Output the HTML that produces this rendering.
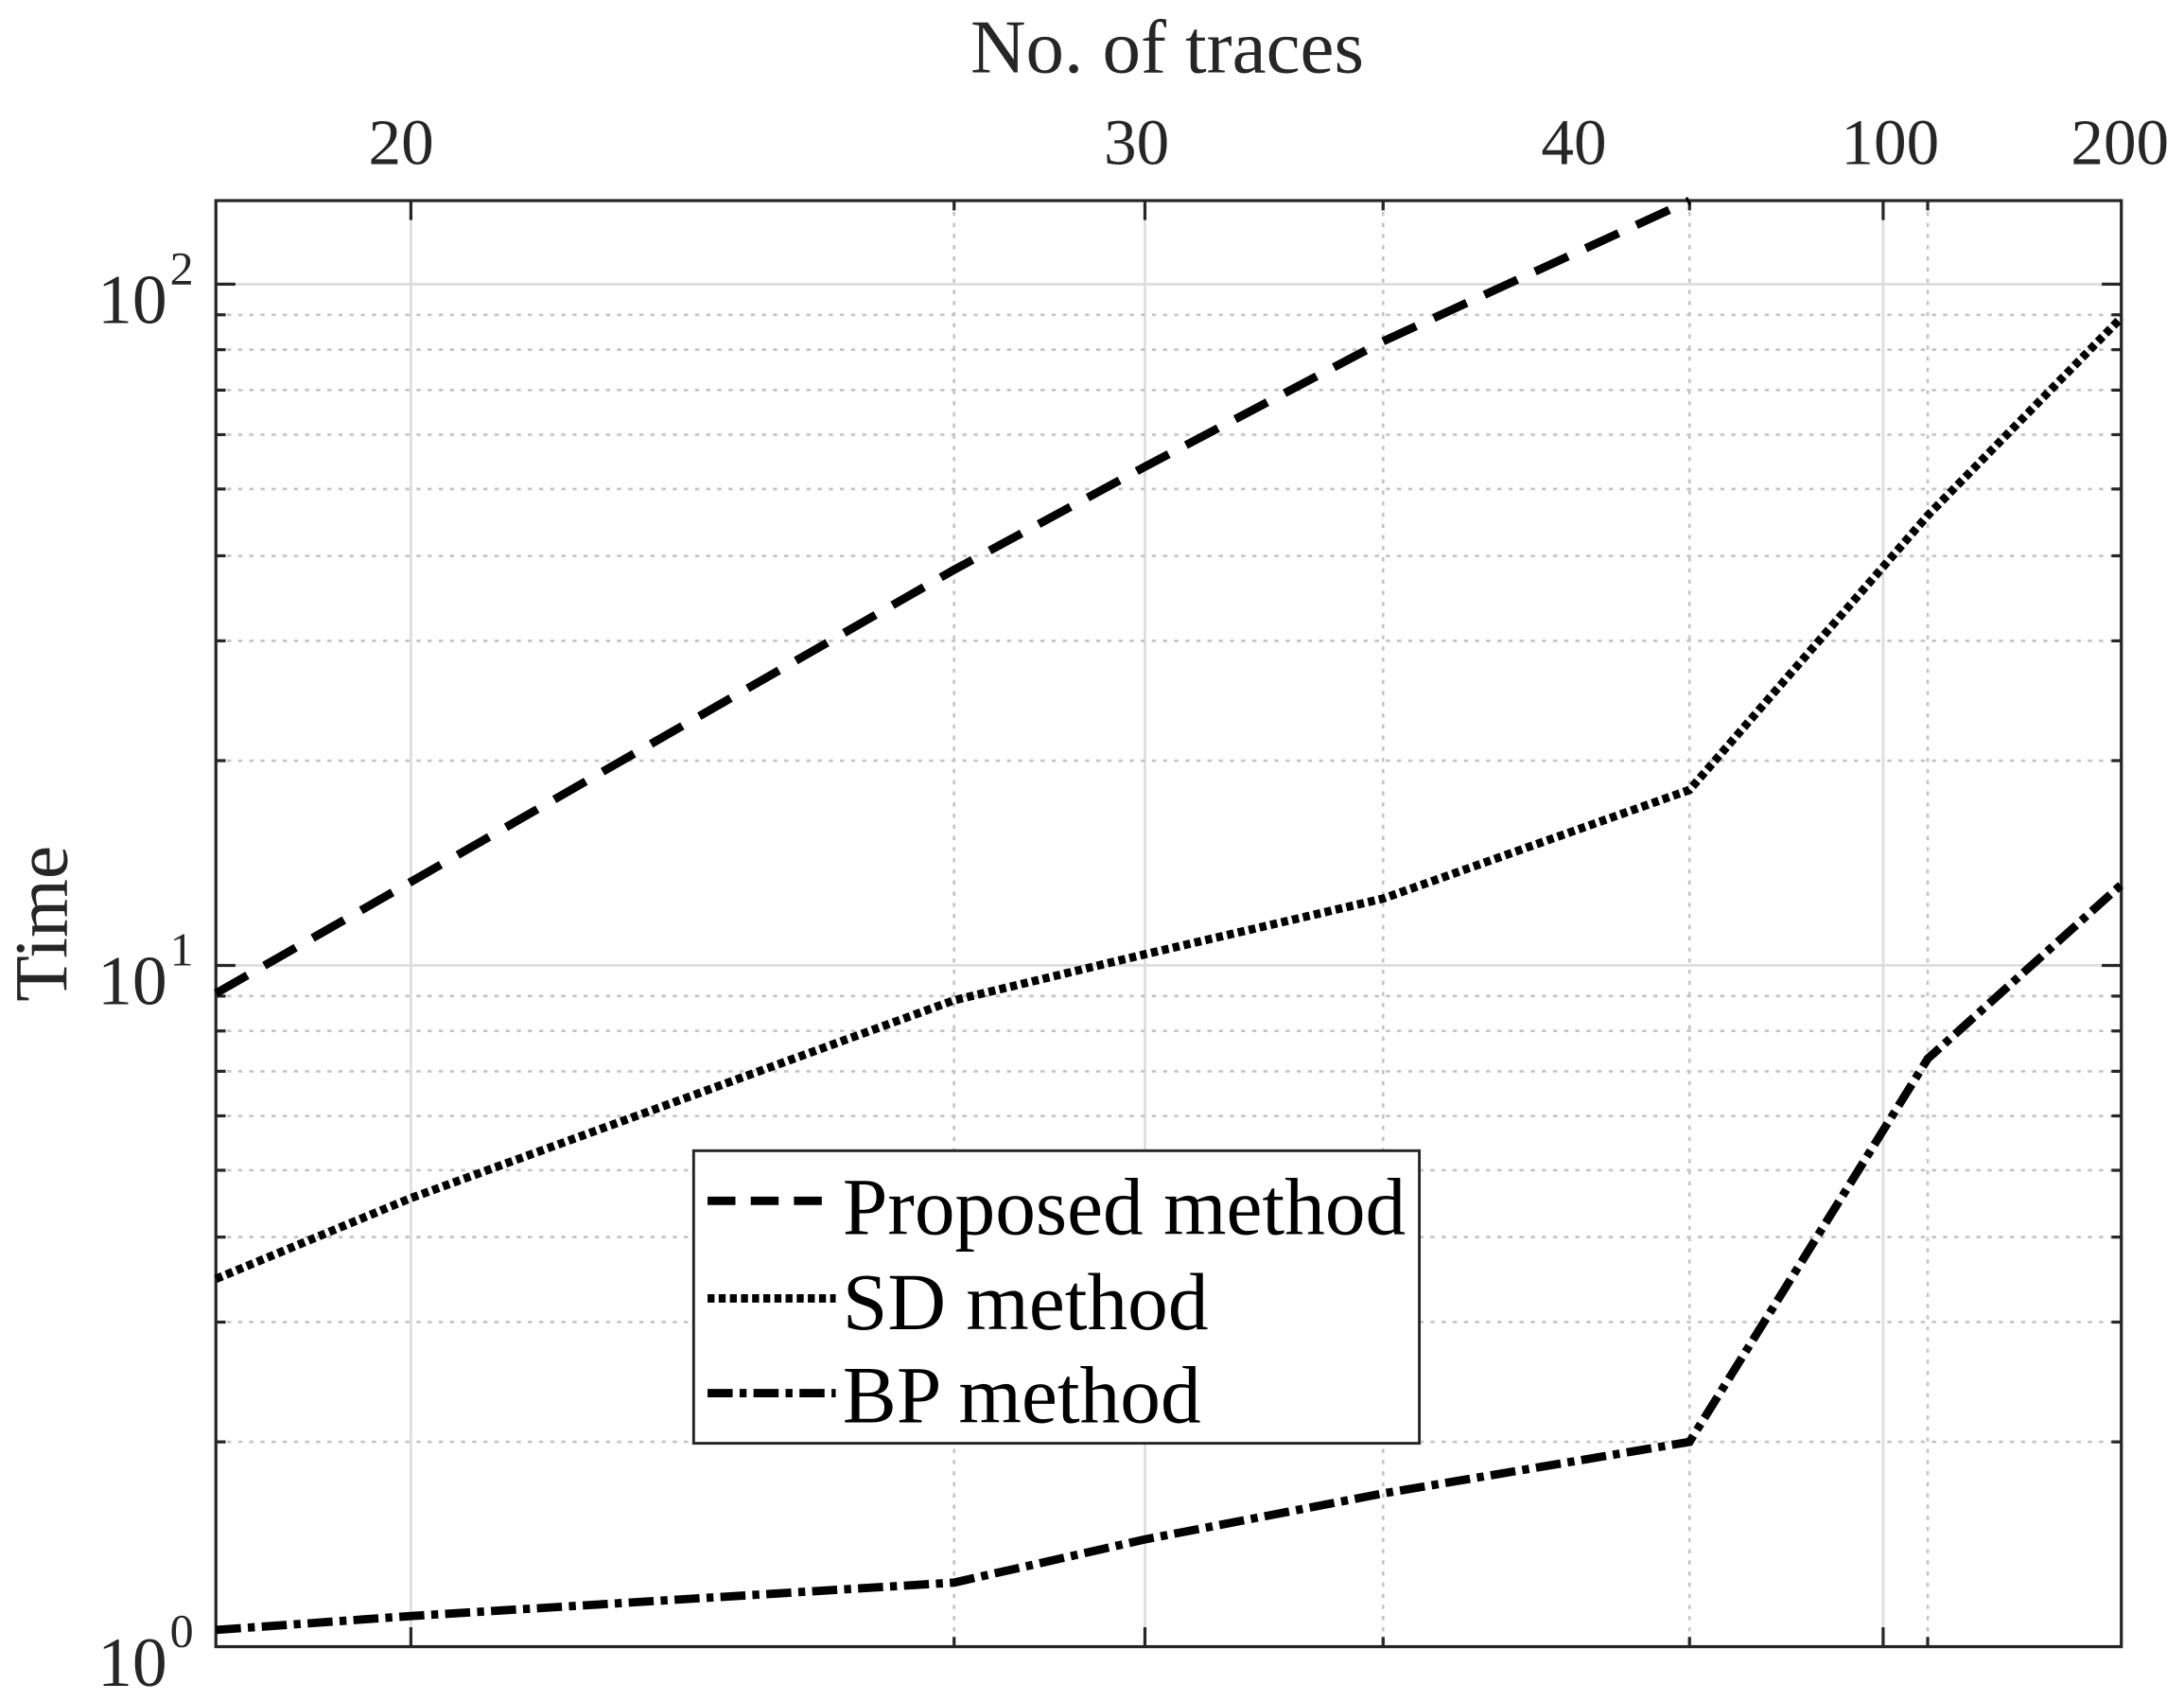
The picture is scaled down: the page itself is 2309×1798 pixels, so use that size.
<!DOCTYPE html>
<html><head><style>html,body{margin:0;padding:0;background:#fff}svg{display:block}</style></head>
<body>
<svg width="2309" height="1798" viewBox="0 0 1568 1221" preserveAspectRatio="none" xmlns="http://www.w3.org/2000/svg" font-family="Liberation Serif, serif" fill="#262626">
<rect width="1568" height="1221" fill="#fff"/>
<g stroke="#dcdcdc" stroke-width="1.8">
<line x1="295" y1="144" x2="295" y2="1182"/><line x1="822" y1="144" x2="822" y2="1182"/><line x1="1352" y1="144" x2="1352" y2="1182"/>
<line x1="155" y1="204" x2="1523" y2="204"/><line x1="155" y1="693" x2="1523" y2="693"/>
</g>
<g stroke="#c4c4c4" stroke-width="1.8" stroke-dasharray="3,5">
<line x1="685" y1="144" x2="685" y2="1182"/><line x1="993" y1="144" x2="993" y2="1182"/><line x1="1213" y1="144" x2="1213" y2="1182"/><line x1="1384" y1="144" x2="1384" y2="1182"/>
<line x1="155" y1="226" x2="1523" y2="226"/><line x1="155" y1="251" x2="1523" y2="251"/><line x1="155" y1="280" x2="1523" y2="280"/><line x1="155" y1="312" x2="1523" y2="312"/><line x1="155" y1="351" x2="1523" y2="351"/><line x1="155" y1="399" x2="1523" y2="399"/><line x1="155" y1="460" x2="1523" y2="460"/><line x1="155" y1="546" x2="1523" y2="546"/>
<line x1="155" y1="715" x2="1523" y2="715"/><line x1="155" y1="740" x2="1523" y2="740"/><line x1="155" y1="769" x2="1523" y2="769"/><line x1="155" y1="801" x2="1523" y2="801"/><line x1="155" y1="840" x2="1523" y2="840"/><line x1="155" y1="888" x2="1523" y2="888"/><line x1="155" y1="949" x2="1523" y2="949"/><line x1="155" y1="1035" x2="1523" y2="1035"/>
</g>
<g stroke="#262626" stroke-width="2.2">
<rect x="155" y="144" width="1368" height="1038" fill="none"/>
<path d="M295 1182v-14M822 1182v-14M1352 1182v-14M295 144v14M822 144v14M1352 144v14M685 1182v-7M993 1182v-7M1213 1182v-7M1384 1182v-7M685 144v7M993 144v7M1213 144v7M1384 144v7
M155 204h14M155 693h14M1523 204h-14M1523 693h-14
M155 226h7M155 251h7M155 280h7M155 312h7M155 351h7M155 399h7M155 460h7M155 546h7M155 715h7M155 740h7M155 769h7M155 801h7M155 840h7M155 888h7M155 949h7M155 1035h7
M1523 226h-7M1523 251h-7M1523 280h-7M1523 312h-7M1523 351h-7M1523 399h-7M1523 460h-7M1523 546h-7M1523 715h-7M1523 740h-7M1523 769h-7M1523 801h-7M1523 840h-7M1523 888h-7M1523 949h-7M1523 1035h-7"/>
</g>
<g fill="none" stroke="#000" stroke-width="6">
<polyline points="155,713 295,633 685,409 822,335 993,245 1213,144" stroke-dasharray="26,14"/>
<polyline points="155,918 295,860 685,718 822,685 993,645 1213,567 1384,370 1523,228" stroke-dasharray="5,3"/>
<polyline points="155,1170 295,1160 685,1136 822,1105 993,1072 1213,1035 1384,760 1523,635" stroke-dasharray="18,5,5,5"/>
</g>
<g font-size="47" text-anchor="middle">
<text x="288" y="118">20</text><text x="816" y="118">30</text><text x="1130" y="118">40</text><text x="1357" y="118">100</text><text x="1522" y="118">200</text>
<text x="838" y="52" font-size="55">No. of traces</text>
</g>
<g font-size="50" text-anchor="end">
<text x="120" y="232">10</text><text x="120" y="721">10</text><text x="120" y="1210">10</text>
</g>
<g font-size="34">
<text x="122" y="204">2</text><text x="122" y="693">1</text><text x="122" y="1182">0</text>
</g>
<text transform="translate(48,663) rotate(-90)" font-size="54" text-anchor="middle">Time</text>
<rect x="498" y="826" width="521" height="210" fill="#fff" stroke="#262626" stroke-width="2"/>
<g fill="none" stroke="#000" stroke-width="6">
<line x1="508" y1="862" x2="600" y2="862" stroke-dasharray="20,11"/>
<line x1="508" y1="932" x2="600" y2="932" stroke-dasharray="5,3"/>
<line x1="508" y1="1000" x2="600" y2="1000" stroke-dasharray="18,5,5,5"/>
</g>
<g font-size="58" fill="#000">
<text x="605" y="886">Proposed method</text><text x="605" y="954">SD method</text><text x="605" y="1021">BP method</text>
</g>
</svg>
</body></html>
